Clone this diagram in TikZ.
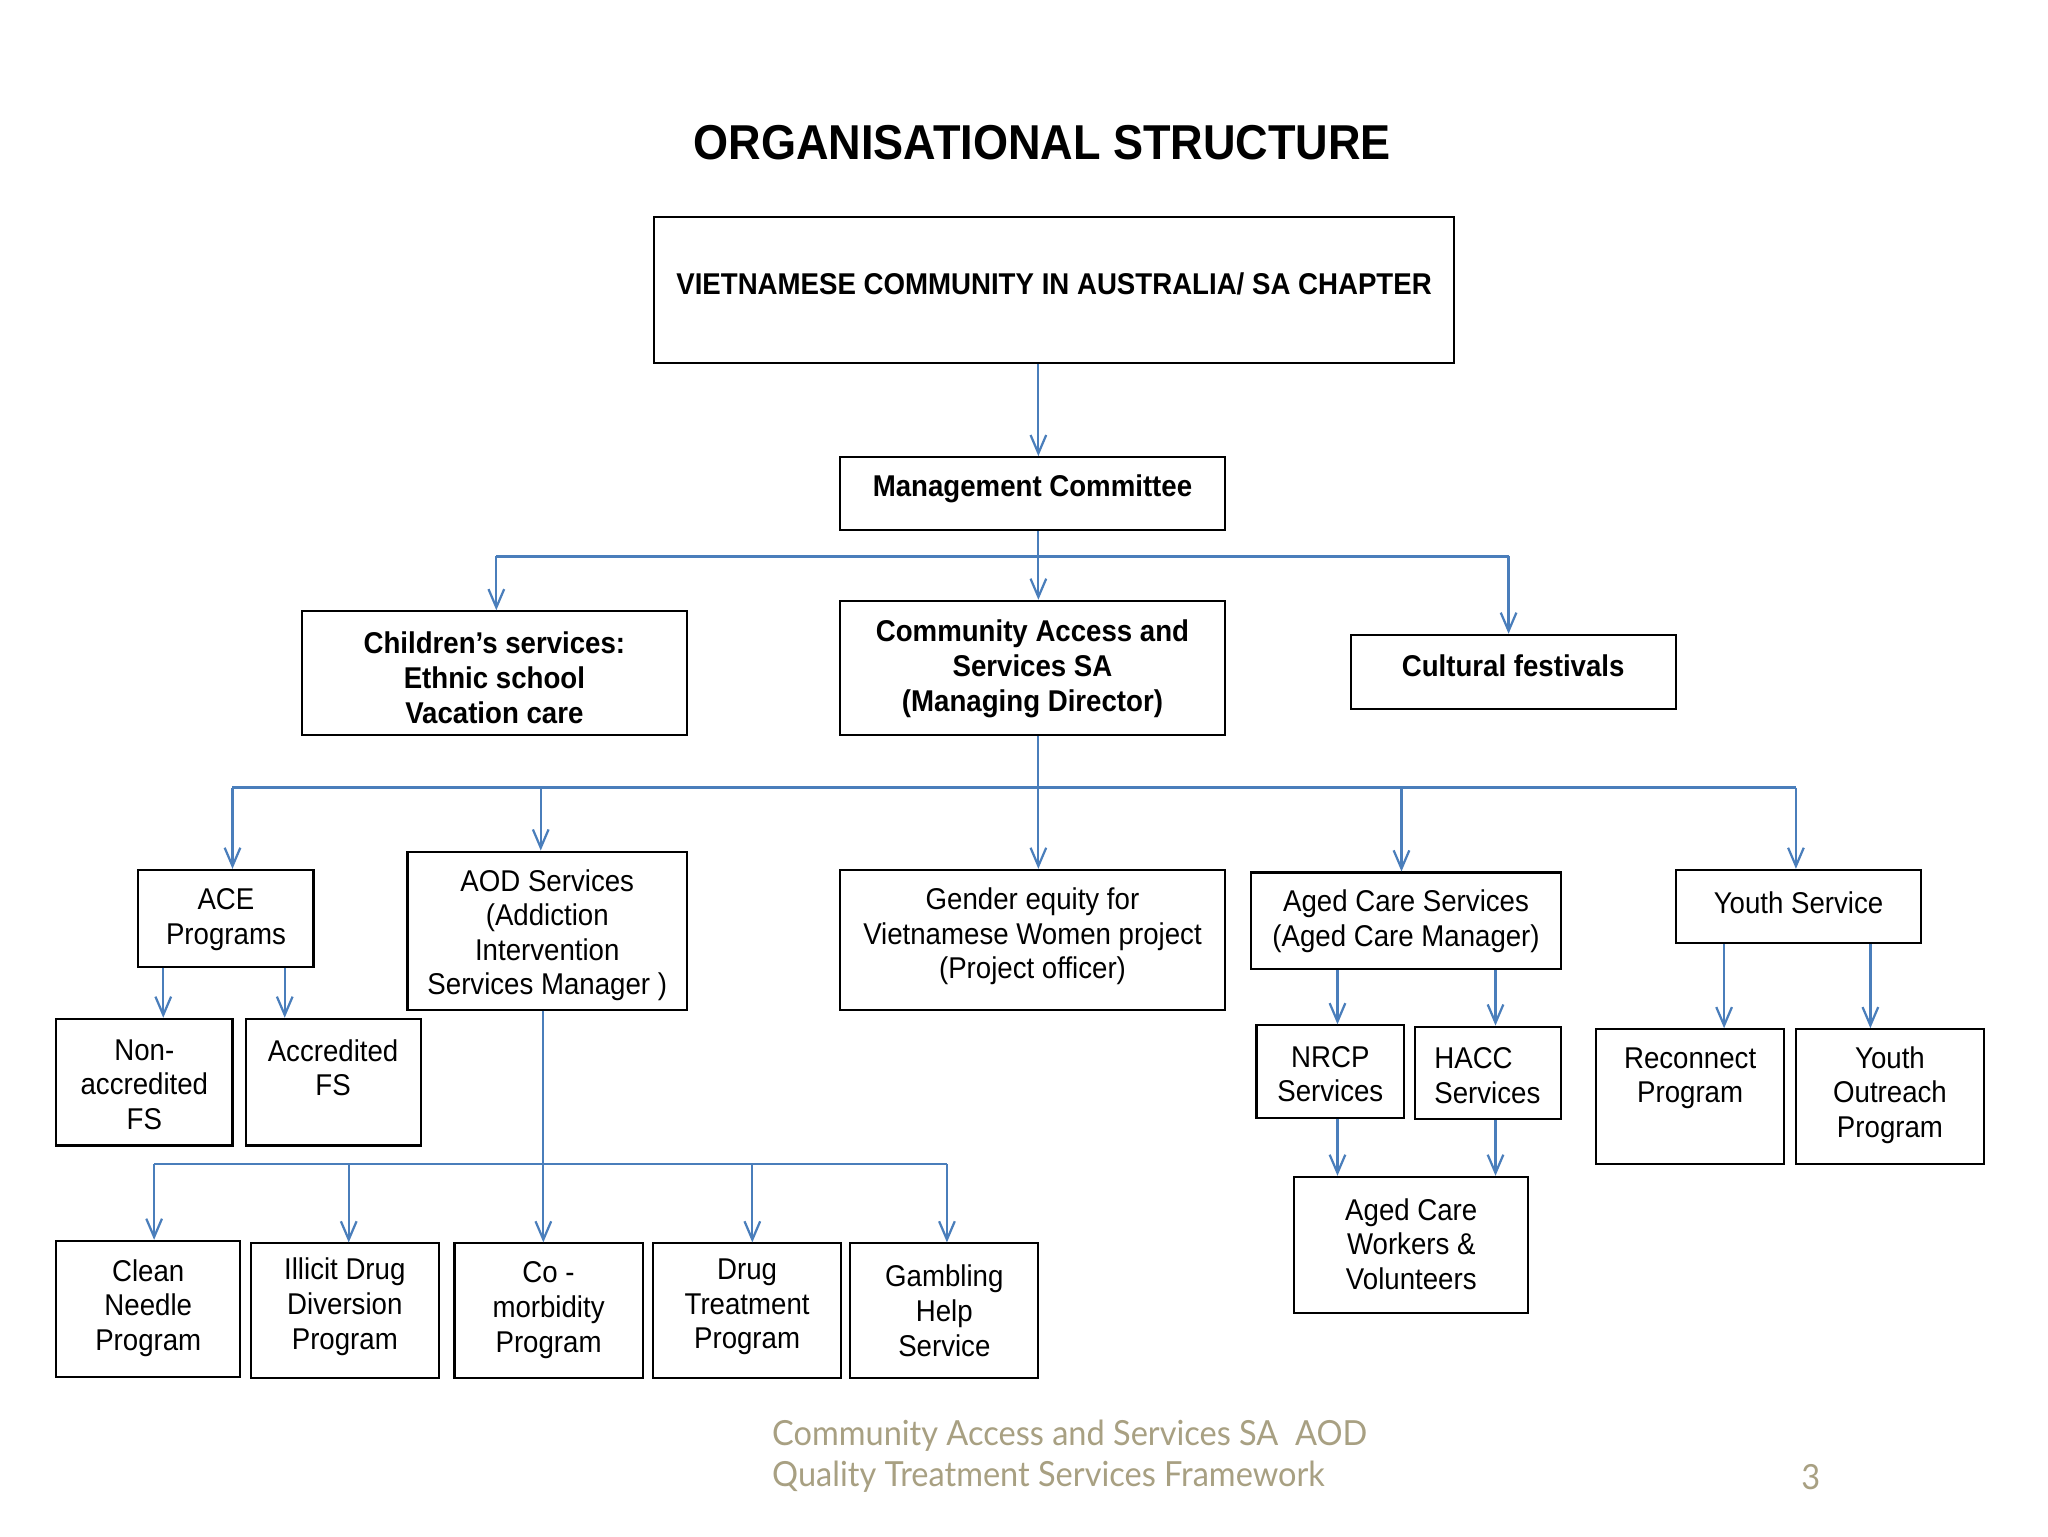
\documentclass[tikz,border=0pt]{standalone}
\usepackage{fontspec}
\setmainfont{Liberation Sans}[FakeStretch=0.92]
\newfontfamily\footfont{Lato}[FakeStretch=0.94]
\usetikzlibrary{arrows.meta}
\definecolor{conncol}{RGB}{74,126,187}
\definecolor{footcol}{RGB}{168,160,130}
\tikzset{
  box/.style={draw=black, line width=1.6pt, inner sep=0pt, fill=white},
  txt/.style={align=center, inner sep=0pt, yshift=-2pt, font=\fontsize{23}{26.5}\selectfont},
  btxt/.style={align=center, inner sep=0pt, yshift=-2pt, font=\fontsize{23}{27}\selectfont\bfseries},
  wire/.style={draw=conncol, line width=1.7pt},
  arr/.style={wire, -{Straight Barb[length=14pt,width=12pt]}},
}
\newcommand{\bx}[8][txt]{%
  \node[box, minimum width={(#5-#3)*1pt}, minimum height={(#6-#4)*1pt}] (#2) at ({(#3+#5)/2},{(#4+#6)/2}) {};
  \node[#1] (#2-t) at ({(#3+#5)/2},#7) {#8};
}
\begin{document}
\begin{tikzpicture}[x=1pt,y=-1pt]
\useasboundingbox[fill=white] (0,0) rectangle (1568,1176);

% title
\node[inner sep=0pt, font=\fontsize{37.5}{40}\selectfont\bfseries] (title) at (798,109) {ORGANISATIONAL STRUCTURE};

% top levels
\bx[btxt]{vca}{501}{166}{1113}{278}{215}{VIETNAMESE COMMUNITY IN AUSTRALIA/ SA CHAPTER}
\bx[btxt]{mc}{643}{350}{938}{406}{372}{Management Committee}
\bx[btxt]{chs}{231}{468}{526}{563}{517}{Children’s services:\\Ethnic school\\Vacation care}
\bx[btxt]{cas}{643}{460}{938}{563}{510}{Community Access and\\Services SA\\(Managing Director)}
\bx[btxt]{cf}{1034}{486}{1283}{543}{508}{Cultural festivals}

% third level
\bx{ace}{106}{666}{240}{740}{702}{ACE\\Programs}
\bx{aod}{312}{652}{526}{773}{714}{AOD Services\\(Addiction\\Intervention\\Services Manager )}
\bx{ge}{643}{666}{938}{773}{715}{Gender equity for\\Vietnamese Women project\\(Project officer)}
\bx{acs}{958}{668}{1195}{742}{703.5}{Aged Care Services\\(Aged Care Manager)}
\bx{ys}{1283}{666}{1471}{722}{689}{Youth Service}

% ACE children
\bx{nac}{43}{780}{178}{877}{828.5}{Non-\\accredited\\FS}
\bx{acc}{188}{780}{322}{877}{815.5}{Accredited\\FS}

% AOD children
\bx{cn}{43}{950}{184}{1054}{999.5}{Clean\\Needle\\Program}
\bx{idd}{192}{952}{336}{1055}{998.5}{Illicit Drug\\Diversion\\Program}
\bx{com}{348}{952}{492}{1055}{1001}{Co -\\morbidity\\Program}
\bx{dt}{500}{952}{644}{1055}{998.5}{Drug\\Treatment\\Program}
\bx{gh}{651}{952}{795}{1055}{1001.5}{Gambling\\Help\\Service}

% Aged care children
\bx{nrcp}{962}{785}{1075}{856}{820.5}{NRCP\\Services}
\node[box, minimum width=112pt, minimum height=71pt] (hacc) at (1139,821.5) {};
\node[txt, align=left, anchor=west] (hacc-t) at (1098,821.5) {HACC\\Services};
\bx{acw}{991}{901}{1170}{1005}{950.5}{Aged Care\\Workers \&\\Volunteers}

% Youth children
\bx{rec}{1222}{788}{1366}{891}{823.5}{Reconnect\\Program}
\bx{yop}{1375}{788}{1519}{891}{836.5}{Youth\\Outreach\\Program}

% coordinates of the connector columns and buses
\coordinate (xa) at (795,0);
\coordinate (b1) at (795,426);
\coordinate (b1L) at (380,426);
\coordinate (b1R) at (1155,426);
\coordinate (b2c) at (795,603);
\coordinate (b2a) at (178,603);
\coordinate (b2b) at (414,603);
\coordinate (b2d) at (1073,603);
\coordinate (b2e) at (1375,603);
\coordinate (c1) at (118,891);
\coordinate (c2) at (267,891);
\coordinate (c3) at (416,891);
\coordinate (c4) at (576,891);
\coordinate (c5) at (725,891);
\coordinate (pa) at (125,0);
\coordinate (pb) at (218,0);
\coordinate (d1) at (1024,0);
\coordinate (d2) at (1145,0);
\coordinate (e1) at (1320,0);
\coordinate (e2) at (1432,0);

% connectors
\draw[arr] (vca.south -| xa) -- (mc.north -| xa);
\draw[wire] (mc.south -| b1) -- (b1);
\draw[wire] (b1L) -- (b1R);
\draw[arr] (b1L) -- (b1L |- chs.north);
\draw[arr] (b1) -- (cas.north -| b1);
\draw[arr] (b1R) -- (b1R |- cf.north);

\draw[wire] (cas.south -| b2c) -- (b2c);
\draw[wire] (b2a) -- (b2e);
\draw[arr] (b2a) -- (b2a |- ace.north);
\draw[arr] (b2b) -- (b2b |- aod.north);
\draw[arr] (b2c) -- (b2c |- ge.north);
\draw[arr] (b2d) -- (b2d |- acs.north);
\draw[arr] (b2e) -- (b2e |- ys.north);

\draw[arr] (ace.south -| pa) -- (nac.north -| pa);
\draw[arr] (ace.south -| pb) -- (acc.north -| pb);

\draw[wire] (aod.south -| c3) -- (c3);
\draw[wire] (c1) -- (c5);
\draw[arr] (c1) -- (c1 |- cn.north);
\draw[arr] (c2) -- (c2 |- idd.north);
\draw[arr] (c3) -- (c3 |- com.north);
\draw[arr] (c4) -- (c4 |- dt.north);
\draw[arr] (c5) -- (c5 |- gh.north);

\draw[arr] (acs.south -| d1) -- (nrcp.north -| d1);
\draw[arr] (acs.south -| d2) -- (hacc.north -| d2);
\draw[arr] (nrcp.south -| d1) -- (acw.north -| d1);
\draw[arr] (hacc.south -| d2) -- (acw.north -| d2);

\draw[arr] (ys.south -| e1) -- (rec.north -| e1);
\draw[arr] (ys.south -| e2) -- (yop.north -| e2);

% footer
\node[anchor=west, inner sep=0pt, align=left, text=footcol, font=\footfont\fontsize{26.5}{31}\selectfont] (foot) at (591,1115) {Community Access and Services SA\ \ AOD\\Quality Treatment Services Framework};
\node[anchor=west, inner sep=0pt, text=footcol, font=\footfont\fontsize{26.5}{31}\selectfont] (page) at (1379,1131) {3};
\end{tikzpicture}
\end{document}
